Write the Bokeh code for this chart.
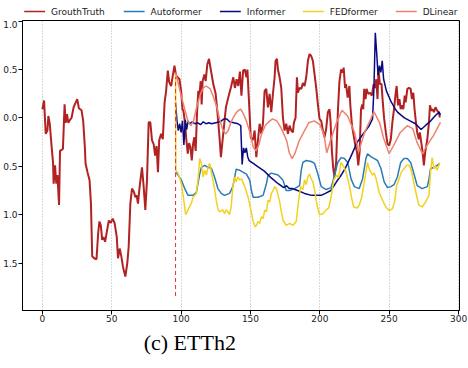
from bokeh.plotting import figure
from bokeh.models import FixedTicker
from bokeh.layouts import column
from bokeh.core.properties import value
from bokeh.embed import file_html
from bokeh.resources import INLINE

# ---------------- data ----------------
gt_x = [0, 1.2, 2.4, 3.6, 4.3, 5.3, 6.5, 7.7, 8.1, 9.1, 10, 10.8, 12, 12.7, 14.8, 16, 16.8, 17.7, 18.7,
        19.9, 21, 22.5, 23.4, 25.1, 26.3, 28.2, 29.4, 30.6, 31.1, 32.5, 34, 35, 35.9, 37.3, 39, 40.2, 41.1,
        42.1, 43.1, 44, 45.2, 46.4, 47.9, 49.3, 50.7, 52.1, 53.6, 54.5, 55.7, 56.9, 58.1, 59.8, 61.2, 62.2,
        63.4, 64.6, 66, 67, 67.9, 68.9, 70.1, 71.8, 73, 74.2, 75.4, 76.6, 77.8, 79, 80.2, 81.3, 82.3, 83.3,
        84.2, 85.6, 86.8, 88.1, 89.2, 90.4, 91.4, 92.8, 93.8, 95.2, 96.4, 97.6, 98.8, 100, 101, 101.7,
        102.9, 103.6, 104.8, 105.7, 106.7, 107.7, 108.6, 109.5, 110.5, 111.5, 112.4, 113.2, 114.1, 114.8,
        115.5, 116.8, 117.7, 118.9, 120.1, 121.5, 123.2, 124.9, 126.3, 127.5, 128.7, 129.9, 131.1, 132.3,
        134, 135.9, 137.6, 138.8, 140, 141.2, 142.4, 143.5, 144.7, 145.9, 147.1, 147.8, 148.8, 150.2,
        151.8, 153, 154.2, 155.4, 156.6, 157.8, 159, 160.2, 161.4, 162.6, 163.8, 165, 166.2, 167.4, 168.1,
        169.1, 169.8, 171, 172.2, 173.4, 174.6, 175.8, 177, 178.2, 179.4, 180.6, 181.3, 182.5, 183.5,
        184.2, 185.4, 186.6, 187.8, 189, 190.2, 191.4, 192.6, 193.8, 195, 196.2, 197.4, 198.6, 199.8, 201,
        202.2, 203.4, 204.6, 205.8, 207, 207.7, 208.7, 209.6, 210.6, 211.8, 213, 214.1, 215.3, 216.5,
        217.2, 218.2, 218.9, 220.1, 221.3, 222, 223.2, 224.4, 225.6, 226.8, 227.7, 228.7, 229.7, 230.6,
        231.3, 232, 233, 233.7, 234.9, 236.3, 237.5, 238.8, 239.7, 240.7, 241.6, 242.3, 243.3, 244.5,
        245.4, 246.4, 247.6, 248.8, 250, 251.2, 252.3, 253.5, 254.7, 255.4, 256.4, 257.4, 258.3, 259.3,
        260.2, 261.2, 261.9, 263.1, 264.3, 265.5, 266.4, 267.4, 268.3, 269.3, 270.2, 271.4, 272.1, 273.1,
        274.1, 275, 276, 277.5, 278.7, 279.4, 280.4, 281.3, 282.3, 283.4, 284.6, 285.8, 286.5]
gt_y = [0.09, 0.18, -0.165, -0.13, 0.02, -0.06, -0.27, -0.47, -0.68, -0.49, -0.68, -0.59, -0.90, -0.34,
        -0.32, 0.14, -0.05, 0.04, -0.05, -0.02, 0.0, 0.11, 0.14, 0.195, 0.10, 0.08, -0.03, -0.30, -0.47,
        -0.56, -0.645, -0.885, -1.43, -1.45, -1.46, -1.19, -1.07, -1.11, -1.26, -1.23, -1.28, -1.18, -1.06,
        -1.085, -1.04, -1.09, -1.23, -1.45, -1.35, -1.43, -1.54, -1.64, -1.50, -1.33, -0.885, -0.73, -0.765,
        -0.82, -0.80, -0.885, -0.71, -0.51, -0.71, -0.95, -0.645, -0.045, -0.045, -0.23, -0.27, -0.39,
        -0.29, -0.56, -0.23, -0.165, -0.22, 0.16, 0.28, 0.49, 0.37, 0.33, 0.42, 0.54, 0.435, 0.42, 0.40,
        0.28, 0.09, 0.07, -0.06, -0.20, -0.37, -0.26, -0.30, -0.44, -0.27, -0.20, -0.34, 0.06, 0.28, 0.23,
        0.38, 0.14, 0.38, 0.45, 0.38, 0.555, 0.61, 0.49, 0.35, 0.25, 0.04, -0.165, -0.405, -0.23, -0.06,
        0.11, 0.21, 0.315, 0.42, 0.31, 0.40, 0.33, 0.48, 0.23, 0.49, 0.50, 0.42, 0.50, 0.21, -0.20, -0.23,
        -0.13, -0.405, -0.23, -0.06, -0.165, -0.06, 0.28, 0.30, 0.11, 0.25, 0.06, 0.25, 0.42, 0.59, 0.61,
        0.50, 0.42, 0.31, 0.005, -0.13, -0.06, -0.165, -0.08, -0.13, -0.15, -0.05, 0.0, 0.42, 0.26, 0.31,
        0.30, 0.36, 0.33, 0.42, 0.59, 0.66, 0.64, 0.59, 0.45, 0.31, 0.14, -0.01, -0.03, -0.13, -0.20, -0.11,
        0.06, 0.09, -0.03, -0.34, -0.51, -0.62, -0.45, 0.06, 0.37, 0.50, 0.47, 0.52, 0.31, 0.35, 0.21, 0.33,
        0.13, -0.08, -0.18, -0.285, -0.35, -0.49, -0.35, 0.09, 0.14, 0.09, 0.30, 0.195, 0.30, 0.25, 0.26,
        0.23, 0.35, 0.31, 0.40, 0.195, 0.50, 0.35, 0.35, 0.16, -0.01, -0.15, -0.27, -0.285, -0.22, -0.045,
        0.09, 0.26, 0.33, 0.13, 0.195, 0.09, 0.13, 0.09, 0.23, 0.16, 0.30, 0.31, 0.30, 0.195, 0.26, 0.09,
        -0.045, -0.15, -0.22, -0.15, -0.25, -0.35, -0.49, -0.35, -0.22, -0.045, 0.13, 0.075, 0.09, 0.06,
        0.11, 0.075, 0.06, 0.005]

auto_x = [96, 97.8, 100.2, 102.6, 105, 108.6, 111, 113.4, 114.6, 117, 119.4, 121.8, 124.1, 126.5, 128.9,
          131.3, 134.9, 137.3, 139.7, 142.1, 144.5, 147.1, 149.5, 150.7, 151.9, 155.5, 159.1, 161.5, 162.7,
          165.1, 169.9, 173.5, 175.8, 178.2, 181.8, 185.4, 186.6, 187.8, 190.2, 193.8, 196.2, 198.6, 201,
          204.6, 208.1, 210.5, 212.9, 215.3, 217.7, 220.1, 222.5, 224.9, 228.4, 230.8, 233.2, 234.4, 236.8,
          239.2, 241.6, 244, 246.4, 248.8, 251.2, 253.5, 255.9, 258.3, 260.7, 263.1, 265.5, 267.9, 270.2,
          273.8, 277.5, 278.7, 279.8, 282.3, 284.6, 286.5]
auto_y = [-0.56, -0.59, -0.645, -0.73, -0.80, -0.80, -0.77, -0.58, -0.51, -0.49, -0.51, -0.52, -0.61,
          -0.73, -0.78, -0.80, -0.78, -0.71, -0.53, -0.54, -0.56, -0.58, -0.645, -0.75, -0.82, -0.82, -0.80,
          -0.68, -0.59, -0.57, -0.59, -0.645, -0.75, -0.75, -0.73, -0.70, -0.54, -0.46, -0.44, -0.45, -0.47,
          -0.58, -0.71, -0.74, -0.72, -0.60, -0.46, -0.41, -0.42, -0.46, -0.63, -0.71, -0.73, -0.63, -0.42,
          -0.37, -0.40, -0.42, -0.44, -0.52, -0.66, -0.72, -0.71, -0.69, -0.61, -0.46, -0.42, -0.42, -0.46,
          -0.58, -0.70, -0.73, -0.71, -0.63, -0.525, -0.51, -0.49, -0.47]

inf_x = [96, 97, 98, 99, 100, 101, 102, 103, 104, 105, 106, 108, 110, 112, 114, 116, 118, 120, 122, 125,
         128, 131, 133, 135, 138, 141, 143, 144, 145, 146, 147, 148, 149, 152, 155, 160, 165, 170, 174, 176,
         178, 180, 184, 189, 194, 198, 201, 204, 208, 212, 215, 218, 222, 227, 232, 235.6, 238, 239, 240,
         241, 242, 243, 244, 245, 246, 248, 251, 254, 256, 261, 265, 269, 273, 276, 280, 283, 286, 287]
inf_y = [0.16, -0.03, -0.13, -0.06, -0.15, -0.03, -0.28, -0.02, -0.12, -0.03, -0.06, -0.04, -0.06, -0.05,
         -0.07, -0.04, -0.06, -0.05, -0.06, -0.05, -0.04, -0.01, -0.01, -0.04, -0.05, -0.06, -0.08, -0.48,
         -0.31, -0.36, -0.31, -0.40, -0.44, -0.47, -0.50, -0.55, -0.62, -0.68, -0.72, -0.70, -0.73, -0.73,
         -0.75, -0.78, -0.80, -0.80, -0.80, -0.78, -0.75, -0.66, -0.60, -0.53, -0.41, -0.25, -0.15, -0.08,
         -0.01, 0.3, 0.88, 0.67, 0.44, 0.54, 0.47, 0.59, 0.40, 0.28, 0.18, 0.10, 0.06, 0.0, -0.03, -0.06,
         -0.12, -0.08, -0.03, 0.02, 0.06, 0.03]

fed_x = [96, 96.2, 97.8, 100.2, 101.9, 103.3, 105, 107.4, 108.6, 111, 112.2, 113.4, 114.6, 115.8, 117,
         118.2, 119.4, 120.6, 121.8, 123, 124.1, 125.3, 126.5, 127.7, 130, 131.3, 132.5, 133.7, 134.9,
         136.1, 137.3, 138.5, 139.7, 140.9, 142.1, 143.5, 145.9, 148.3, 150.3, 151.9, 153.6, 155.5, 156.7,
         157.9, 159.1, 160.3, 161.5, 162.7, 163.9, 165.1, 166.3, 167.5, 168.7, 169.9, 171.1, 172.3, 173.5,
         175.8, 178.2, 180.6, 183, 184.7, 186.2, 187.8, 189, 190.2, 191.4, 192.6, 193.8, 195, 196.2, 198,
         199.8, 202.2, 204.6, 206.4, 208.1, 210, 212, 213.5, 215.3, 217.2, 218.9, 221.3, 223, 224.4, 226.8,
         228.5, 230.2, 231.6, 233, 234.4, 235.6, 236.8, 238, 239.2, 240.4, 242.8, 245.2, 247.6, 250, 252.3,
         254, 255.4, 257.1, 258.8, 260.7, 262.6, 264.3, 265.5, 266.7, 269.1, 271.4, 273.8, 276.2, 278.7,
         279.8, 281, 282.3, 283.4, 284.6, 285.8, 286.5]
fed_y = [0.45, -0.54, -0.57, -0.68, -0.85, -1.0, -0.95, -0.88, -0.82, -0.78, -0.64, -0.42, -0.47, -0.61,
         -0.54, -0.59, -0.51, -0.47, -0.56, -0.645, -0.73, -0.85, -0.94, -0.97, -0.95, -0.99, -0.95, -0.97,
         -1.0, -0.92, -0.71, -0.61, -0.66, -0.61, -0.64, -0.63, -0.71, -0.82, -0.95, -1.07, -1.13, -1.07,
         -1.09, -1.02, -1.04, -0.95, -0.97, -0.85, -0.87, -0.78, -0.75, -0.71, -0.73, -0.80, -0.87, -0.97,
         -1.06, -1.11, -1.09, -1.11, -1.07, -0.85, -0.71, -0.74, -0.64, -0.69, -0.61, -0.58, -0.63, -0.66,
         -0.74, -0.90, -1.0, -0.99, -0.95, -0.93, -0.82, -0.645, -0.59, -0.62, -0.46, -0.50, -0.56, -0.70,
         -0.83, -0.92, -0.93, -0.90, -0.82, -0.70, -0.58, -0.46, -0.53, -0.56, -0.59, -0.57, -0.62, -0.77,
         -0.85, -0.92, -0.955, -0.94, -0.86, -0.70, -0.63, -0.56, -0.525, -0.49, -0.49, -0.52, -0.595,
         -0.76, -0.90, -0.92, -0.87, -0.80, -0.56, -0.41, -0.525, -0.50, -0.54, -0.49, -0.46]

dl_x = [96, 98, 100, 103, 105, 107, 109, 111, 114, 116, 118, 121, 123, 126, 128, 130, 132, 134, 136, 139,
        141, 143, 145, 147, 150, 152, 154, 156, 158, 161, 164, 166, 169, 172, 176, 178, 180, 182, 185, 189,
        192, 196, 200, 203, 205, 208, 212, 216, 220, 225, 228, 232, 237, 239, 243, 246, 250, 253, 258, 263,
        267, 270, 274, 277, 282, 287]
dl_y = [0.47, 0.35, 0.23, 0.07, -0.04, -0.08, -0.03, 0.10, 0.25, 0.31, 0.33, 0.30, 0.23, 0.10, -0.03,
        -0.12, -0.165, -0.13, -0.04, 0.04, 0.075, 0.09, 0.04, -0.03, -0.17, -0.30, -0.34, -0.28, -0.165,
        -0.07, -0.03, -0.01, -0.03, -0.10, -0.23, -0.36, -0.42, -0.37, -0.24, -0.13, -0.05, -0.03, -0.07,
        -0.17, -0.36, -0.22, -0.05, 0.08, 0.02, -0.15, -0.35, -0.16, 0.0, 0.065, -0.045, -0.21, -0.37,
        -0.29, -0.15, -0.08, -0.11, -0.25, -0.37, -0.29, -0.18, -0.045]

series_names = ["GrouthTruth", "Autoformer", "Informer", "FEDformer", "DLinear"]
series_colors = ["#b22222", "#2b7bb5", "#0a0a80", "#f2d21e", "#f08070"]
series_widths = [2, 1.5, 1.5, 1.5, 1.5]

split_x = 96
split_y = [-1.84, 0.42]

x_ticks = [0, 50, 100, 150, 200, 250, 300]
y_ticks = [-1.5, -1.0, -0.5, 0.0, 0.5, 1.0]
y_tick_labels = ["1.5", "1.0", "0.5", "0.0", "0.5", "1.0"]
caption = "(c) ETTh2"

# ---------------- layout constants (pixels) ----------------
W = 468
BORDER_L = 20
BORDER_R = 9
LEG_H = 20
MAIN_H = 310
CAP_H = 36
leg_x0 = [21.7, 121.7, 218.3, 301.7, 395.0]   # start of each legend swatch (page px)
leg_len = 21
leg_gap = 6
leg_y = 9
cap_x = 141.7
cap_y = 24


def strip(height):
    # frame aligned with the main plot frame; data units == page pixels
    f = figure(width=W, height=height, x_range=(BORDER_L, W - BORDER_R), y_range=(0, height),
               output_backend="svg", toolbar_location=None,
               x_axis_location=None, y_axis_location=None,
               min_border_left=BORDER_L, min_border_right=BORDER_R, min_border_top=0, min_border_bottom=0)
    f.grid.visible = False
    f.outline_line_color = None
    f.background_fill_color = "white"
    f.border_fill_color = "white"
    return f


# ---------------- legend strip ----------------
lg = strip(LEG_H)
for x0, c in zip(leg_x0, series_colors):
    lg.segment(x0=[x0], y0=[leg_y], x1=[x0 + leg_len], y1=[leg_y], line_color=c, line_width=1.5)
lg.text(x=[x0 + leg_len + leg_gap for x0 in leg_x0], y=[leg_y] * len(leg_x0), text=series_names,
        text_font=value("DejaVu Sans"), text_font_size=value("9px"), text_color="#222222",
        text_baseline="middle", text_align="left")

# ---------------- main plot ----------------
p = figure(width=W, height=MAIN_H, x_range=(-14.35, 300.7), y_range=(-1.99, 1.007),
           output_backend="svg", toolbar_location=None,
           min_border_left=BORDER_L, min_border_right=BORDER_R, min_border_top=0, min_border_bottom=20)
p.background_fill_color = "white"
p.border_fill_color = "white"
p.outline_line_color = "black"
p.outline_line_width = 1

p.ygrid.visible = False
p.xgrid.grid_line_color = "#b4b4b4"
p.xgrid.grid_line_dash = "1 2"
p.xgrid.grid_line_width = 1

p.xaxis.ticker = FixedTicker(ticks=x_ticks)
p.yaxis.ticker = FixedTicker(ticks=y_ticks)
p.yaxis.major_label_overrides = {t: s for t, s in zip(y_ticks, y_tick_labels)}
for ax in (p.xaxis[0], p.yaxis[0]):
    ax.axis_line_color = "black"
    ax.major_tick_line_color = "black"
    ax.major_tick_out = 4
    ax.major_tick_in = 0
    ax.minor_tick_out = 0
    ax.minor_tick_in = 0
    ax.major_label_text_font = "DejaVu Sans"
    ax.major_label_text_font_size = "9px"
    ax.major_label_text_color = "#222222"
p.xaxis.major_label_standoff = 0
p.yaxis.major_label_standoff = 1

series = [(gt_x, gt_y), (auto_x, auto_y), (inf_x, inf_y), (fed_x, fed_y), (dl_x, dl_y)]
for (xs, ys), c, w in zip(series, series_colors, series_widths):
    p.line(xs, ys, line_color=c, line_width=w)

p.segment(x0=[split_x], y0=[split_y[0]], x1=[split_x], y1=[split_y[1]],
          line_color="#e8302a", line_width=1, line_dash="4 3")

# ---------------- caption strip ----------------
cf = strip(CAP_H)
cf.text(x=[cap_x], y=[cap_y], text=[caption], text_font=value("Liberation Serif"),
        text_font_size=value("22px"), text_color="black", text_baseline="alphabetic", text_align="left")

layout = column(lg, p, cf, spacing=0)
open("out.html", "w").write(file_html(layout, INLINE))
